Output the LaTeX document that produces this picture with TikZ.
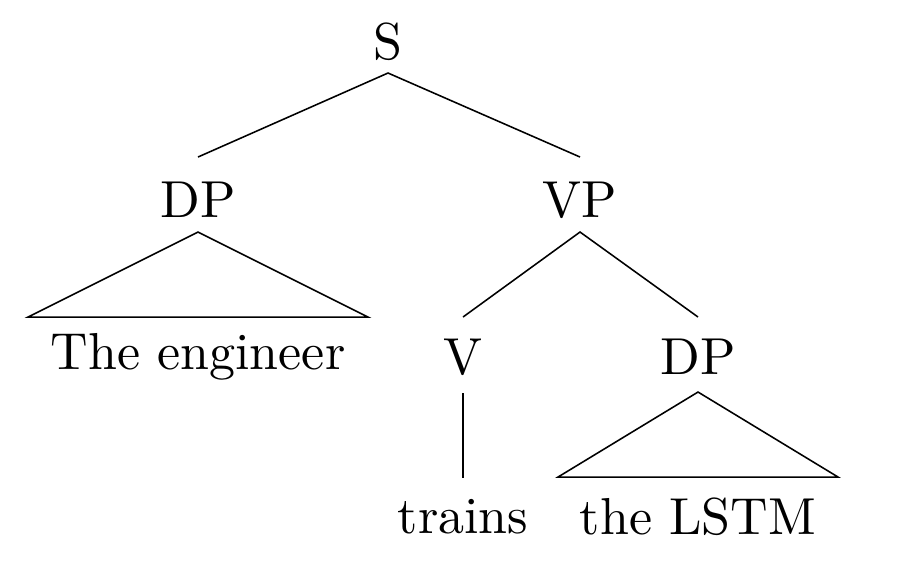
\documentclass[tikz,border=0pt]{standalone}
\begin{document}
\begin{tikzpicture}[x=0.1923pt,y=-0.1923pt,lbl/.style={inner sep=0pt,font=\fontsize{10}{12}\selectfont},ln/.style={line width=0.3pt}]
\useasboundingbox (0,0) rectangle (916,564);
\node[lbl] (S) at (388,42) {S};
\node[lbl] (DP1) at (198,200) {DP};
\node[lbl] (VP) at (580,200) {VP};
\node[lbl] (eng) at (198,357) {The engineer};
\node[lbl] (V) at (463,357) {V};
\node[lbl] (DP2) at (698,357) {DP};
\node[lbl] (tr) at (463,517) {trains};
\node[lbl] (lstm) at (698,517) {the LSTM};
\coordinate (s1) at (388,73);
\coordinate (dp1t) at (198,157);
\coordinate (vpt) at (580,157);
\coordinate (dp1b) at (198,232);
\coordinate (vpb) at (580,232);
\coordinate (vt) at (463,317);
\coordinate (dp2t) at (698,317);
\coordinate (vb) at (463,393);
\coordinate (trt) at (463,478);
\coordinate (dp2b) at (698,392);
\draw[ln] (dp1t) -- (s1) -- (vpt);
\draw[ln] (dp1b) -- (28,317) -- (368,317) -- cycle;
\draw[ln] (vt) -- (vpb) -- (dp2t);
\draw[ln] (vb) -- (trt);
\draw[ln] (dp2b) -- (558,477) -- (838,477) -- cycle;
\end{tikzpicture}
\end{document}
